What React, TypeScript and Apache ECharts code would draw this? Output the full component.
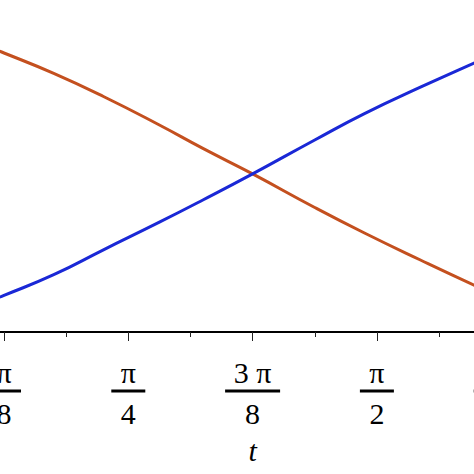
import React, { useEffect, useRef } from "react";
import * as echarts from "echarts";

// x positions in units of pi/8
const tEighthsPi = [0.9, 1.0, 1.4, 1.8, 2.25, 2.6, 3.0, 3.5, 3.9, 4.35, 4.8, 4.9];
const blueValues = [0.106, 0.122, 0.191, 0.274, 0.366, 0.44, 0.527, 0.64, 0.728, 0.816, 0.9, 0.918];
const orangeValues = [0.945, 0.93, 0.862, 0.785, 0.69, 0.612, 0.527, 0.415, 0.33, 0.24, 0.153, 0.136];
// tick labels: [numerator, denominator] for multiples of pi/8
const tickNumerators = ["", "π", "π", "3 π", "π", "5 π", "3 π"];
const tickDenominators = ["", "8", "4", "8", "2", "8", "4"];
const axisName = "t";

const SERIF = "Liberation Serif";
const OFFSET_LEFT = 130;
const INNER_WIDTH = 764;

export default function App() {
  const ref = useRef<HTMLDivElement>(null);
  useEffect(() => {
    if (!ref.current) return;
    const chart = echarts.init(ref.current, undefined, { renderer: "svg" });
    const blue = tEighthsPi.map((x, i) => [x, blueValues[i]]);
    const orange = tEighthsPi.map((x, i) => [x, orangeValues[i]]);
    chart.setOption({
      animation: false,
      backgroundColor: "#ffffff",
      grid: {
        left: 9.7,
        right: 8.5,
        top: 32,
        bottom: 142,
        containLabel: false,
        outerBoundsMode: "none",
      },
      xAxis: {
        type: "value",
        min: 0,
        max: 6,
        interval: 1,
        name: axisName,
        nameLocation: "middle",
        nameGap: 103,
        nameTextStyle: { fontFamily: SERIF, fontStyle: "italic", fontSize: 30, color: "#000" },
        axisLine: { show: true, onZero: false, lineStyle: { color: "#000", width: 2 } },
        axisTick: { show: true, length: 9, lineStyle: { color: "#222", width: 1 } },
        minorTick: { show: true, splitNumber: 2, length: 5, lineStyle: { color: "#222", width: 1 } },
        splitLine: { show: false },
        axisLabel: {
          margin: 25,
          showMinLabel: true,
          showMaxLabel: true,
          fontFamily: SERIF,
          formatter: (v: number) => {
            const i = Math.round(v);
            if (!tickNumerators[i]) return "";
            const wide = tickNumerators[i].length > 1;
            return `{n|${tickNumerators[i]}}\n{${wide ? "bw" : "b"}|}\n{d|${tickDenominators[i]}}`;
          },
          rich: {
            n: { fontFamily: SERIF, fontSize: 30, lineHeight: 30, color: "#000", align: "center" },
            b: { width: 34, height: 3, lineHeight: 8, backgroundColor: "#000", align: "center" },
            bw: { width: 55, height: 3, lineHeight: 8, backgroundColor: "#000", align: "center" },
            d: { fontFamily: SERIF, fontSize: 30, lineHeight: 36, color: "#000", align: "center" },
          },
        },
      },
      yAxis: {
        type: "value",
        min: 0,
        max: 1,
        show: false,
        splitLine: { show: false },
      },
      series: [
        {
          type: "line",
          data: orange,
          smooth: true,
          showSymbol: false,
          lineStyle: { color: "#c4501f", width: 3 },
        },
        {
          type: "line",
          data: blue,
          smooth: true,
          showSymbol: false,
          lineStyle: { color: "#1a28d6", width: 3 },
        },
      ],
    });
    return () => chart.dispose();
  }, []);
  return (
    <div
      style={{ position: "fixed", left: 0, top: 0, width: 474, height: 474, overflow: "hidden", background: "#fff" }}
    >
      <div
        ref={ref}
        style={{ position: "absolute", left: -OFFSET_LEFT, top: 0, width: INNER_WIDTH, height: 474 }}
      />
    </div>
  );
}
